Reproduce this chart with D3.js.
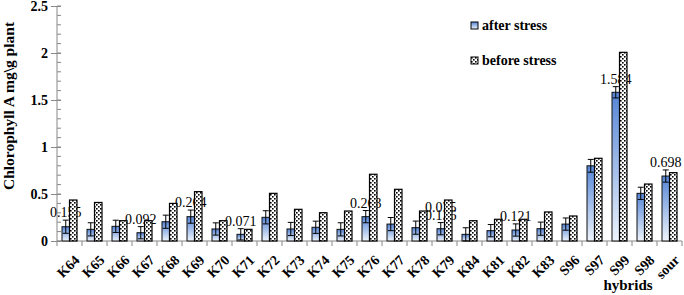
<!DOCTYPE html>
<html><head><meta charset="utf-8">
<script src="https://cdn.jsdelivr.net/npm/d3@7"></script>
<style>body{margin:0;background:#fff}svg{display:block}
svg text{font-family:"Liberation Serif","Times New Roman","DejaVu Serif",serif;}
</style>
</head><body>
<script>
const categories = ["K64","K65","K66","K67","K68","K69","K70","K71","K72","K73","K74","K75","K76","K77","K78","K79","K84","K81","K82","K83","S96","S97","S99","S98","sour"];
const afterStress = [0.152,0.124,0.156,0.088,0.205,0.259,0.128,0.071,0.252,0.128,0.146,0.124,0.259,0.18,0.142,0.131,0.071,0.11,0.117,0.131,0.18,0.80,1.582,0.507,0.691];
const beforeStress = [0.436,0.41,0.216,0.216,0.40,0.525,0.216,0.124,0.507,0.337,0.301,0.319,0.71,0.55,0.319,0.436,0.216,0.231,0.231,0.309,0.266,0.88,2.007,0.606,0.727];
const afterError = [0.07,0.07,0.065,0.065,0.07,0.07,0.065,0.06,0.07,0.07,0.065,0.07,0.065,0.07,0.07,0.065,0.07,0.065,0.065,0.07,0.065,0.068,0.06,0.065,0.065];
const labelCats = ["K64","K67","K69","K71","K76","K79","K79","K82","S99","sour"];
const labelTexts = ["0.155","0.092","0.264","0.071","0.263","0.136","0.075","0.121","1.584","0.698"];
const yTicks = [0,0.5,1,1.5,2,2.5];
const seriesNames = ["after stress","before stress"];

const W = 684, H = 295;
const m = {left:57, right:2, top:6, bottom:54};
const svg = d3.select("body").append("svg").attr("width",W).attr("height",H);
const defs = svg.append("defs");
const grad = defs.append("linearGradient").attr("id","blueGrad").attr("x1",0).attr("y1",0).attr("x2",0).attr("y2",1);
grad.append("stop").attr("offset","0%").attr("stop-color","#5585d6");
grad.append("stop").attr("offset","100%").attr("stop-color","#eef4fc");
const pat = defs.append("pattern").attr("id","dots").attr("patternUnits","userSpaceOnUse").attr("width",4).attr("height",4);
pat.append("rect").attr("width",4).attr("height",4).attr("fill","#fff");
pat.append("rect").attr("x",0).attr("y",0).attr("width",1.6).attr("height",1.6).attr("fill","#000");
pat.append("rect").attr("x",2).attr("y",2).attr("width",1.6).attr("height",1.6).attr("fill","#000");

const x = d3.scaleBand().domain(categories).range([m.left, W-m.right]).paddingInner(0).paddingOuter(0);
const y = d3.scaleLinear().domain([0,2.5]).range([H-m.bottom, m.top]);
const bw = x.bandwidth()*0.3;
const off = (x.bandwidth() - 2*bw)/2;

// axes
const yAxisG = svg.append("g").attr("transform",`translate(${m.left},0)`);
yAxisG.call(d3.axisLeft(y).tickValues(yTicks).tickFormat(d=>String(d)).tickSize(6).tickPadding(3));
yAxisG.select(".domain").remove();
yAxisG.selectAll(".tick line").attr("x2",-6).attr("x1",4).attr("stroke","#888");
yAxisG.selectAll("text").attr("font-family",null).attr("font-weight","bold").attr("font-size",14).attr("fill","#000");
const minor = d3.range(0,2.51,0.1);
svg.append("g").selectAll("line").data(minor).join("line")
  .attr("x1",m.left).attr("x2",m.left+4).attr("y1",d=>y(d)).attr("y2",d=>y(d)).attr("stroke","#888");
svg.append("line").attr("x1",m.left).attr("x2",m.left).attr("y1",y(0)).attr("y2",y(2.5)).attr("stroke","#888");

const xAxisG = svg.append("g").attr("transform",`translate(0,${y(0)})`);
svg.append("line").attr("x1",m.left).attr("x2",W-m.right).attr("y1",y(0)).attr("y2",y(0)).attr("stroke","#888");
const bounds = categories.map(c=>x(c)).concat([x(categories[categories.length-1])+x.bandwidth()]);
xAxisG.selectAll("line.t").data(bounds).join("line").attr("class","t")
  .attr("x1",d=>d).attr("x2",d=>d).attr("y1",0).attr("y2",5).attr("stroke","#888");
xAxisG.selectAll("text").data(categories).join("text")
  .attr("transform",d=>`translate(${x(d)+x.bandwidth()/2+4},${13}) rotate(-45)`)
  .attr("text-anchor","end").attr("dy","0.7em")
  .attr("font-weight","bold").attr("font-size",14)
  .text(d=>d);

// after stress bars
svg.append("g").selectAll("rect").data(categories).join("rect")
  .attr("x",d=>x(d)+off).attr("width",bw)
  .attr("y",(d,i)=>y(afterStress[i])).attr("height",(d,i)=>y(0)-y(afterStress[i]))
  .attr("fill","url(#blueGrad)").attr("stroke","#111").attr("stroke-width",1);
// error bars
const eg = svg.append("g").attr("stroke","#000").attr("stroke-width",1);
categories.forEach((c,i)=>{
  const cx = x(c)+off+bw/2;
  const lo = y(afterStress[i]-afterError[i]), hi = y(afterStress[i]+afterError[i]);
  eg.append("line").attr("x1",cx).attr("x2",cx).attr("y1",lo).attr("y2",hi);
  eg.append("line").attr("x1",cx-3).attr("x2",cx+3).attr("y1",lo).attr("y2",lo);
  eg.append("line").attr("x1",cx-3).attr("x2",cx+3).attr("y1",hi).attr("y2",hi);
});
// labels
const seen = {};
svg.append("g").selectAll("text").data(labelCats).join("text")
  .attr("x",d=>x(d)+off+bw/2)
  .attr("y",(d,i)=>{const k=categories.indexOf(d); const n=seen[d]||0; seen[d]=n+1; return y(afterStress[k]+afterError[k])-3-n*8;})
  .attr("text-anchor","middle").attr("font-size",14).attr("fill","#000")
  .text((d,i)=>labelTexts[i]);
// before stress bars
svg.append("g").selectAll("rect").data(categories).join("rect")
  .attr("x",d=>x(d)+off+bw).attr("width",bw)
  .attr("y",(d,i)=>y(beforeStress[i])).attr("height",(d,i)=>y(0)-y(beforeStress[i]))
  .attr("fill","url(#dots)").attr("stroke","#000").attr("stroke-width",1.2);

// legend
const lg = svg.append("g").attr("transform","translate(471,22)");
seriesNames.forEach((s,i)=>{
  const g = lg.append("g").attr("transform",`translate(0,${i*35})`);
  g.append("rect").attr("x",0).attr("y",0).attr("width",7).attr("height",7)
    .attr("fill",i===0?"url(#blueGrad)":"url(#dots)").attr("stroke","#000").attr("stroke-width",1);
  g.append("text").attr("x",11).attr("y",8).attr("font-weight","bold").attr("font-size",14).text(s);
});

// titles
svg.append("text").attr("transform",`translate(14,${106}) rotate(-90)`).attr("text-anchor","middle")
  .attr("font-weight","bold").attr("font-size",15.5).text("Chlorophyll A mg\\g plant");
svg.append("text").attr("x",628).attr("y",290).attr("text-anchor","middle")
  .attr("font-weight","bold").attr("font-size",15).text("hybrids");
</script>
</body></html>
